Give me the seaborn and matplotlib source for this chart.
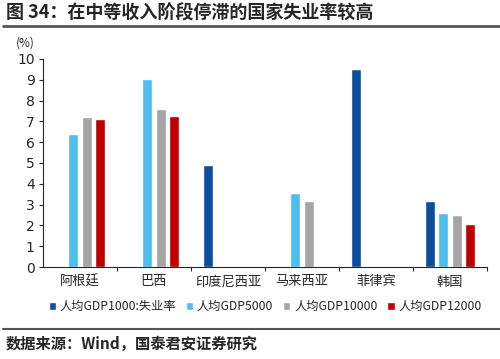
import numpy as np
import pandas as pd
import matplotlib
matplotlib.use("Agg")
import matplotlib.pyplot as plt
import seaborn as sns

sns.set_style("ticks")
plt.rcParams['font.family'] = ['Noto Sans CJK SC', 'DejaVu Sans']

countries = ["阿根廷", "巴西", "印度尼西亚", "马来西亚", "菲律宾", "韩国"]
series = ["人均GDP1000:失业率", "人均GDP5000", "人均GDP10000", "人均GDP12000"]
gdp1000 = [np.nan, np.nan, 4.9, np.nan, 9.5, 3.17]
gdp5000 = [6.38, 9.02, np.nan, 3.54, np.nan, 2.6]
gdp10000 = [7.2, 7.58, np.nan, 3.17, np.nan, 2.5]
gdp12000 = [7.12, 7.27, np.nan, np.nan, np.nan, 2.07]
colors = ["#0B4E9E", "#4DBEEE", "#A5A5A5", "#C00000"]

rows = []
for name, vals in zip(series, [gdp1000, gdp5000, gdp10000, gdp12000]):
    for c, v in zip(countries, vals):
        rows.append({"country": c, "series": name, "value": v})
df = pd.DataFrame(rows)

fig = plt.figure(figsize=(5, 3.59), dpi=100)
ax = fig.add_axes([0.086, 0.256, 0.888, 0.58])

sns.barplot(data=df, x="country", y="value", hue="series", order=countries,
            hue_order=series, palette=colors, width=0.73, gap=0.27,
            saturation=1, ax=ax, legend=True)

ax.set_ylim(0, 10)
ax.set_xlim(-0.5, 5.5)
ax.set_yticks(range(0, 11))
ax.tick_params(axis="y", labelsize=10, length=3, width=0.8, pad=3)
ax.tick_params(axis="x", which="major", length=0, labelsize=9.5, pad=6)
ax.set_xticks(np.arange(0.5, 6, 1), minor=True)
ax.tick_params(axis="x", which="minor", length=3, width=0.8)
for lab in ax.get_yticklabels():
    lab.set_fontfamily("DejaVu Sans")
ax.set_xlabel("")
ax.set_ylabel("")
sns.despine(ax=ax)
ax.spines["left"].set_linewidth(0.8)
ax.spines["bottom"].set_linewidth(0.8)
ax.text(-0.04, 1.06, "(%)", transform=ax.transAxes, fontsize=8.5, ha="center")

ax.legend(loc="upper center", bbox_to_anchor=(0.5, -0.135), ncol=4, frameon=False,
          fontsize=8.8, handlelength=0.6, handleheight=0.6, handletextpad=0.3,
          columnspacing=0.8, borderaxespad=0)

fig.text(0.012, 0.965, "图 34：在中等收入阶段停滞的国家失业率较高", fontsize=13,
         fontweight="bold", va="center", ha="left")
fig.add_artist(plt.Line2D([0.005, 1.0], [0.928, 0.928], color="#555555", lw=2))
fig.add_artist(plt.Line2D([0.005, 1.0], [0.083, 0.083], color="#555555", lw=1.5))
fig.text(0.012, 0.043, "数据来源：Wind，国泰君安证券研究", fontsize=11,
         fontweight="bold", va="center", ha="left")

fig.savefig("out.png", dpi=100)
